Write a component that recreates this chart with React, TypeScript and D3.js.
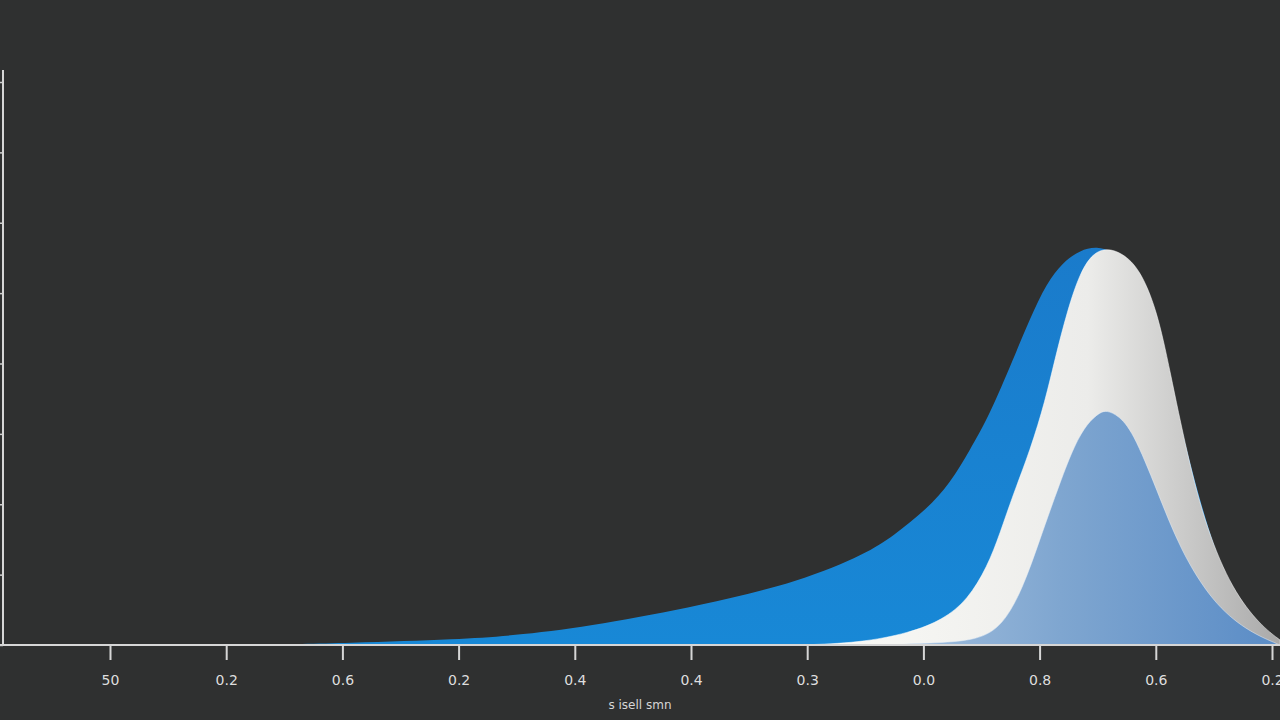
import { useEffect, useRef } from "react";
import { area, axisBottom, axisLeft, curveBasis, scaleLinear, select } from "d3";

// x in tick units (0..10), y in grid units (0..8)
const outerX = [1.2, 2.07, 3.0, 3.53, 4.22, 5.08, 5.94, 6.51, 6.74, 7.03, 7.23, 7.4, 7.57, 7.77, 7.92, 8.06, 8.2, 8.35, 8.5, 8.69, 8.91, 9.12, 9.38, 9.64, 9.9, 10.07];
const outerY = [0, 0.03, 0.08, 0.14, 0.29, 0.56, 0.9, 1.3, 1.55, 1.93, 2.3, 2.77, 3.27, 4.05, 4.65, 5.14, 5.44, 5.61, 5.67, 5.56, 5.04, 3.76, 1.99, 0.71, 0.14, 0];

const midX = [5.94, 6.45, 6.88, 7.17, 7.38, 7.55, 7.66, 7.77, 7.92, 8.05, 8.13, 8.24, 8.35, 8.46, 8.58, 8.71, 8.86, 9.01, 9.12, 9.27, 9.44, 9.66, 9.9, 10.07];
const midY = [0, 0.03, 0.17, 0.36, 0.64, 1.11, 1.59, 2.13, 2.77, 3.48, 4.05, 4.76, 5.3, 5.57, 5.64, 5.57, 5.35, 4.76, 3.91, 2.7, 1.63, 0.78, 0.28, 0.07];

const innerX = [6.63, 7.14, 7.46, 7.68, 7.86, 8.0, 8.18, 8.3, 8.41, 8.52, 8.58, 8.67, 8.8, 9.01, 9.21, 9.49, 9.78, 10.01, 10.07];
const innerY = [0, 0.03, 0.07, 0.26, 0.82, 1.49, 2.33, 2.84, 3.15, 3.31, 3.33, 3.27, 3.05, 2.2, 1.35, 0.6, 0.21, 0.04, 0];

const tickLabels = ["50", "0.2", "0.6", "0.2", "0.4", "0.4", "0.3", "0.0", "0.8", "0.6", "0.2"];
const axisTitle = "s isell smn";

const W = 1280;
const H = 720;

export default function App() {
  const gx = useRef<SVGGElement>(null);
  const gy = useRef<SVGGElement>(null);

  const x = scaleLinear([0, 10], [110, 1272]);
  const y = scaleLinear([0, 8], [645, 82]);

  const zip = (xs: number[], ys: number[]) => xs.map((v, i) => [v, ys[i]] as [number, number]);
  const shape = area<[number, number]>()
    .x((d) => x(d[0]))
    .y0(y(0))
    .y1((d) => y(d[1]))
    .curve(curveBasis);

  useEffect(() => {
    const ax = select(gx.current!);
    ax.call(
      axisBottom(x)
        .tickValues(tickLabels.map((_, i) => i))
        .tickFormat((_, i) => tickLabels[i])
        .tickSize(15)
        .tickPadding(15) as any
    );
    ax.select(".domain").remove();
    ax.selectAll(".tick line").attr("stroke", "#d6d6d6").attr("stroke-width", 2);
    ax.selectAll(".tick text")
      .attr("fill", "#dedede")
      .attr("font-size", 14)
      .attr("font-family", "DejaVu Sans, sans-serif");

    const ay = select(gy.current!);
    ay.call(axisLeft(y).ticks(8).tickSize(3).tickFormat(() => "") as any);
    ay.select(".domain").remove();
    ay.selectAll(".tick line").attr("stroke", "#cfcfcf").attr("stroke-width", 1.5);
  }, []);

  return (
    <svg width={W} height={H} style={{ position: "fixed", left: 0, top: 0, background: "#2f3030" }}>
      <defs>
        <linearGradient id="midGrad" x1="0" x2="1" y1="0" y2="0">
          <stop offset="0%" stopColor="#fbfbf7" />
          <stop offset="60%" stopColor="#ececea" />
          <stop offset="100%" stopColor="#a9a9a9" />
        </linearGradient>
        <linearGradient id="innerGrad" x1="0" x2="1" y1="0" y2="0">
          <stop offset="0%" stopColor="#a4c0de" />
          <stop offset="45%" stopColor="#7fa6d0" />
          <stop offset="100%" stopColor="#5a8cc6" />
        </linearGradient>
        <linearGradient id="outerGrad" x1="0" x2="0" y1="0" y2="1">
          <stop offset="0%" stopColor="#1a7bcb" />
          <stop offset="100%" stopColor="#1888d6" />
        </linearGradient>
      </defs>
      <rect width={W} height={H} fill="#2f3030" />
      <path d={shape(zip(outerX, outerY)) ?? ""} fill="url(#outerGrad)" />
      <path d={shape(zip(midX, midY)) ?? ""} fill="url(#midGrad)" stroke="#ffffff" strokeOpacity={0.5} strokeWidth={1} />
      <path d={shape(zip(innerX, innerY)) ?? ""} fill="url(#innerGrad)" stroke="#e8f0f8" strokeOpacity={0.5} strokeWidth={1} />
      <line x1={0} x2={W} y1={y(0)} y2={y(0)} stroke="#d6d6d6" strokeWidth={2} />
      <line x1={3} x2={3} y1={70} y2={y(0)} stroke="#d6d6d6" strokeWidth={2} />
      <g ref={gx} transform={`translate(0,${y(0)})`} />
      <g ref={gy} transform={`translate(3,0)`} />
      <text x={640} y={709} textAnchor="middle" fill="#d6d6d6" fontSize={12} fontFamily="DejaVu Sans, sans-serif">
        {axisTitle}
      </text>
    </svg>
  );
}
